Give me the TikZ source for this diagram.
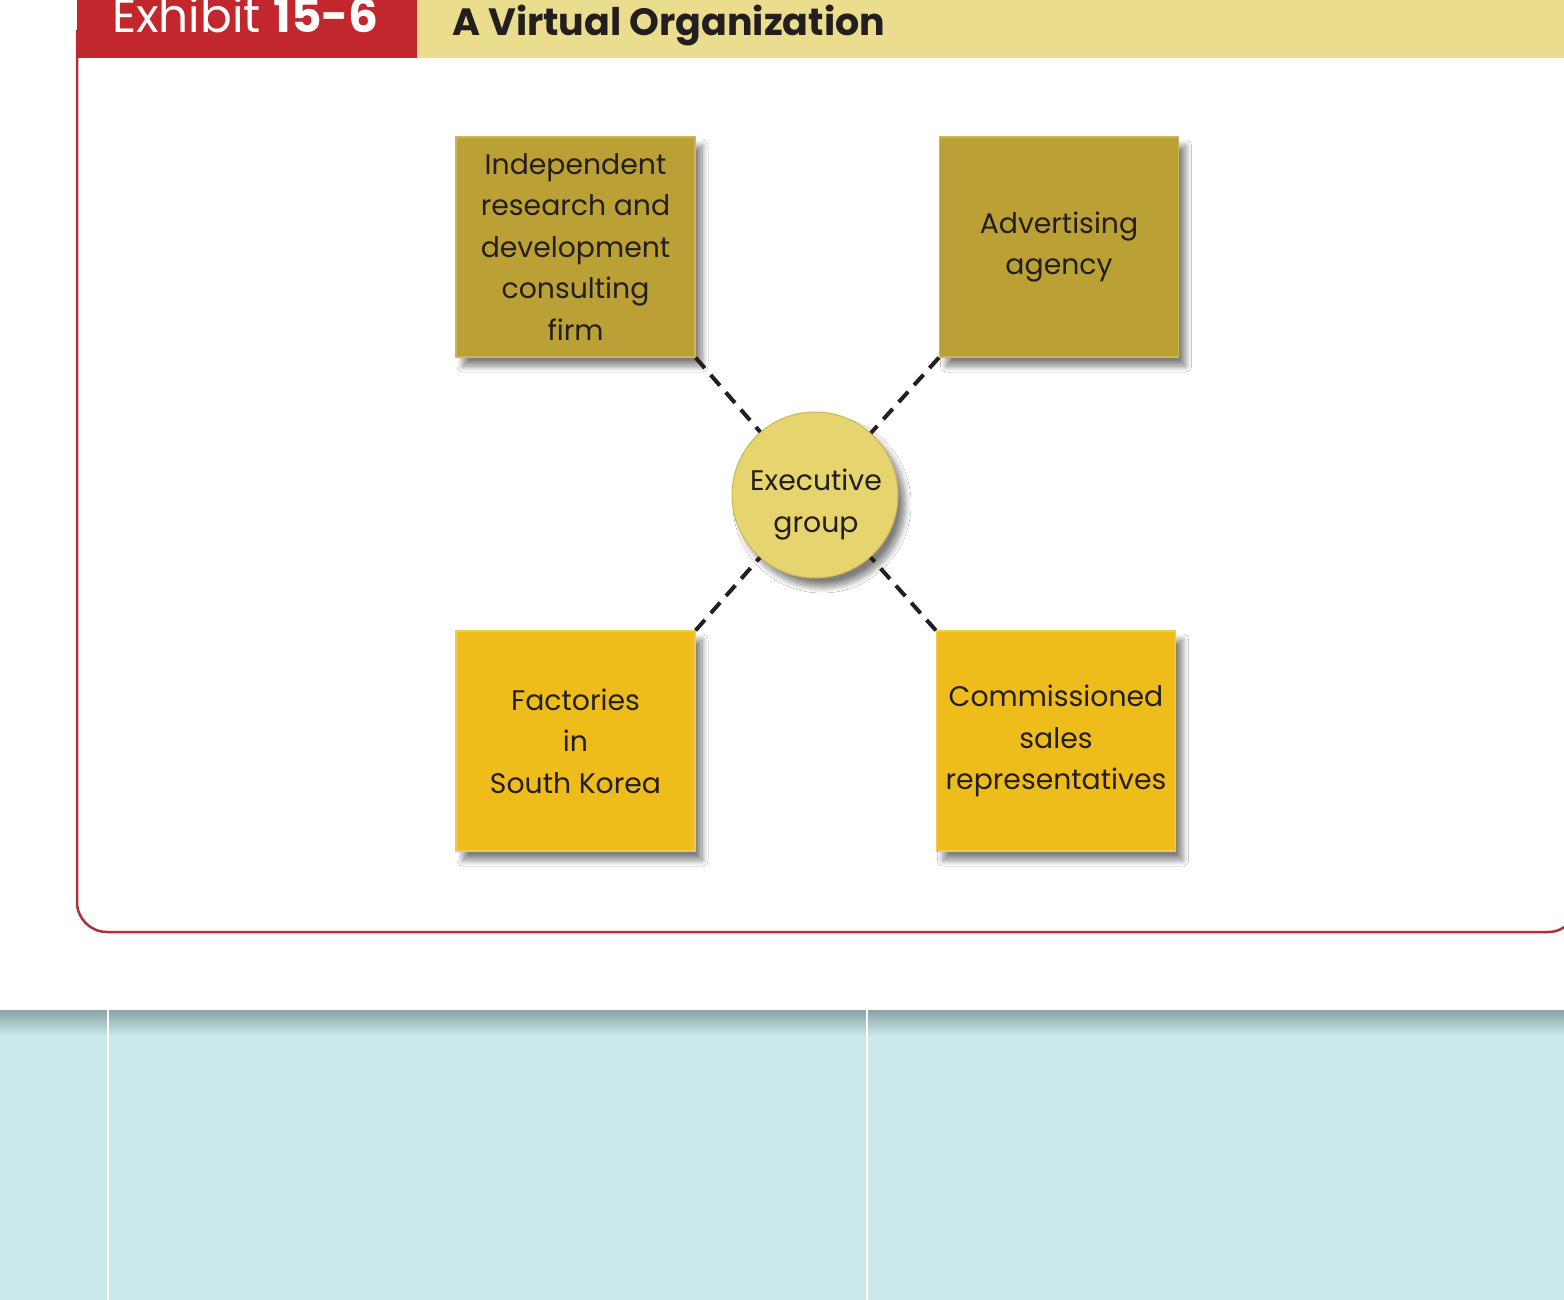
\documentclass[tikz,border=0pt]{standalone}
\usepackage{fontspec}
\setmainfont{Poppins}
\usetikzlibrary{shadows.blur}
\definecolor{hdred}{HTML}{C1272D}
\definecolor{framered}{HTML}{B0303A}
\definecolor{hdyel}{HTML}{EADE8E}
\definecolor{olive}{HTML}{BBA035}
\definecolor{oliveedge}{HTML}{CDB55A}
\definecolor{gold}{HTML}{EEBD1C}
\definecolor{goldedge}{HTML}{F3C94A}
\definecolor{circ}{HTML}{E6D46F}
\definecolor{circedge}{HTML}{CDB555}
\definecolor{ink}{HTML}{231F20}
\definecolor{band}{HTML}{CBE8ED}
\definecolor{bandtop}{HTML}{8AA3A9}
\tikzset{
  softshadow/.style={blur shadow={shadow xshift=7pt, shadow yshift=-9pt, shadow blur radius=6pt,
    shadow blur steps=12, shadow opacity=50}},
  boxnode/.style={rectangle, minimum width=239pt, minimum height=220pt, inner sep=0pt,
    align=center, text=ink, font=\fontsize{28.3}{41.5}\selectfont, softshadow},
  rdbox/.style={boxnode, fill=olive, draw=oliveedge, line width=1.2pt},
  fabox/.style={boxnode, fill=gold, draw=goldedge, line width=1.2pt},
  execnode/.style={circle, minimum size=166pt, inner sep=0pt,
    fill=circ, draw=circedge, line width=1pt, softshadow},
  exectext/.style={align=center, text=ink, inner sep=0pt, font=\fontsize{28.3}{42}\selectfont},
  link/.style={draw=ink, line width=4pt, dash pattern=on 14pt off 9pt},
}
\begin{document}
\begin{tikzpicture}[x=1pt,y=-1pt]
\useasboundingbox (0,0) rectangle (1564,1300);
\fill[white] (0,0) rectangle (1564,1300);
% frame
\draw[framered, line width=2.5pt, rounded corners=30pt] (77,30) -- (77,932) -- (1578,932) -- (1578,30);
% header
\fill[hdred] (77,0) rectangle (417,58);
\fill[hdyel] (417,0) rectangle (1564,58);
\node[anchor=base west, inner sep=0pt, text=white, font=\fontsize{47}{47}\selectfont] (exh) at (112,33) {Exhibit \textbf{15-6}};
\node[anchor=base west, inner sep=0pt, text=ink, font=\fontsize{38}{38}\selectfont\bfseries] (ttl) at (452,36) {A Virtual Organization};
% bottom band
\fill[band] (0,1010) rectangle (1564,1300);
\shade[top color=bandtop, bottom color=band] (0,1010) rectangle (1564,1036);
\draw[white, line width=2pt] (108,1010) -- (108,1300);
\draw[white, line width=2pt] (867,1010) -- (867,1300);
% nodes
\node[rdbox] (rd) at (575.5,247) {Independent\\research and\\development\\consulting\\firm};
\node[rdbox] (adv) at (1059,247) {Advertising\\agency};
\node[fabox] (fac) at (575.5,741) {Factories\\in\\South Korea};
\node[fabox] (sales) at (1056,741) {Commissioned\\sales\\representatives};
\node[execnode] (ex) at (815,495) {};
\node[exectext] (extext) at (816,505) {Executive\\group};
\path[link] (rd.south east) -- (ex);
\path[link] (adv.south west) -- (ex);
\path[link] (fac.north east) -- (ex);
\path[link] (sales.north west) -- (ex);
\end{tikzpicture}
\end{document}
